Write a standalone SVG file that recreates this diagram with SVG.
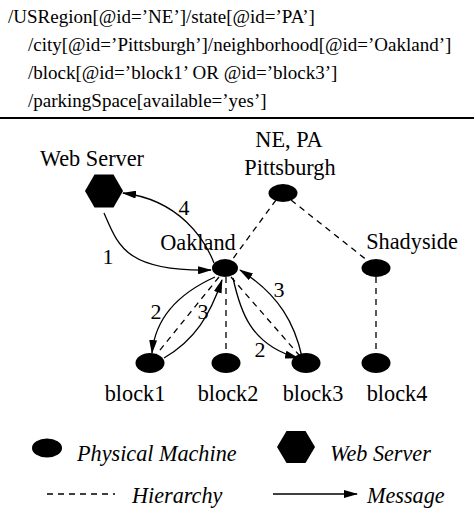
<svg xmlns="http://www.w3.org/2000/svg" width="474" height="526" viewBox="0 0 474 526">
<style>
text{font-family:"Liberation Serif","Times New Roman",serif;fill:#000}
.h{font-size:19px}
.l{font-size:22.3px;text-anchor:middle}
.n{font-size:22px;text-anchor:middle}
.i{font-size:22.2px;font-style:italic}
.d{stroke:#000;stroke-width:1.3;stroke-dasharray:6,5;fill:none}
.m{stroke:#000;stroke-width:1.3;fill:none;marker-end:url(#ah)}
</style>
<defs>
<marker id="ah" viewBox="0 0 14 8" refX="13" refY="4" markerWidth="14" markerHeight="8" markerUnits="userSpaceOnUse" orient="auto">
<path d="M0,0 L14,4 L0,8 Z" fill="#000"/>
</marker>
</defs>
<rect width="474" height="526" fill="#fff"/>
<g id="query">
<text class="h" x="8" y="23">/USRegion[@id=’NE’]/state[@id=’PA’]</text>
<text class="h" x="28" y="51">/city[@id=’Pittsburgh’]/neighborhood[@id=’Oakland’]</text>
<text class="h" x="28" y="79">/block[@id=’block1’ OR @id=’block3’]</text>
<text class="h" x="28" y="107">/parkingSpace[available=’yes’]</text>
<line x1="0" y1="118" x2="474" y2="118" stroke="#000" stroke-width="2"/>
</g>
<g id="connectors">
<path class="d" d="M276,200 L232,260"/>
<path class="d" d="M291,200 L368,261"/>
<path class="d" d="M376,277 L376,353"/>
<path class="d" d="M226,277 L226,353"/>
<path class="d" d="M219,277 L156,355"/>
<path class="d" d="M231,277 L299,355"/>
<path class="m" d="M104,213 C118,245 125,272 211,270"/>
<path class="m" d="M214,263 C205,240 180,200 123,193"/>
<path class="m" d="M215,277 C175,295 155,320 152,353"/>
<path class="m" d="M164,358 C195,340 210,315 222,280"/>
<path class="m" d="M233,278 C240,310 250,345 298,358"/>
<path class="m" d="M302,357 C295,325 280,295 240,270"/>
<text class="n" x="108" y="264">1</text>
<text class="n" x="184" y="215">4</text>
<text class="n" x="156" y="319">2</text>
<text class="n" x="203" y="319">3</text>
<text class="n" x="260" y="357">2</text>
<text class="n" x="279" y="297">3</text>
</g>
<g id="webserver">
<polygon points="85,191 94.5,174.5 113.5,174.5 123,191 113.5,207.5 94.5,207.5" fill="#000"/>
<text class="l" x="92" y="166">Web Server</text>
</g>
<g id="pittsburgh">
<ellipse cx="283" cy="193" rx="14.5" ry="9" fill="#000"/>
<text class="l" x="289" y="147">NE, PA</text>
<text class="l" x="290" y="175">Pittsburgh</text>
</g>
<g id="oakland">
<ellipse cx="225" cy="268" rx="13" ry="9" fill="#000"/>
<text class="l" x="198" y="250">Oakland</text>
</g>
<g id="shadyside">
<ellipse cx="376" cy="268" rx="14.5" ry="9" fill="#000"/>
<text class="l" x="412" y="249">Shadyside</text>
</g>
<g id="block1">
<ellipse cx="150" cy="363" rx="14.5" ry="10" fill="#000"/>
<text class="l" x="135" y="401">block1</text>
</g>
<g id="block2">
<ellipse cx="226" cy="363" rx="14.5" ry="10" fill="#000"/>
<text class="l" x="228" y="401">block2</text>
</g>
<g id="block3">
<ellipse cx="306" cy="363" rx="14.5" ry="10" fill="#000"/>
<text class="l" x="313" y="401">block3</text>
</g>
<g id="block4">
<ellipse cx="376" cy="363" rx="14.5" ry="10" fill="#000"/>
<text class="l" x="397" y="401">block4</text>
</g>
<g id="legend">
<ellipse cx="47" cy="448" rx="15" ry="9.5" fill="#000"/>
<text class="i" x="77" y="461">Physical Machine</text>
<polygon points="277,447 286.5,431 305.5,431 315,447 305.5,463 286.5,463" fill="#000"/>
<text class="i" x="330" y="461">Web Server</text>
<line class="d" x1="47" y1="494" x2="115" y2="494" stroke-dasharray="7,6"/>
<text class="i" x="132" y="503">Hierarchy</text>
<line class="m" x1="273" y1="494" x2="357" y2="494"/>
<text class="i" x="367" y="503">Message</text>
</g>
</svg>
